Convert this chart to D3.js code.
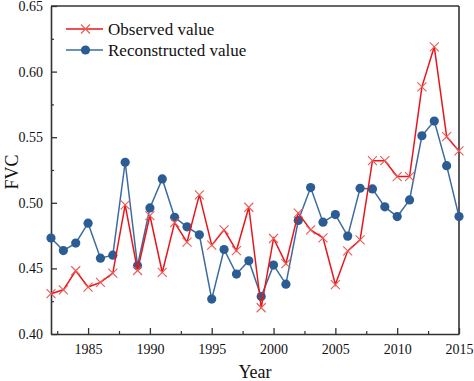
<!DOCTYPE html>
<html><head><meta charset="utf-8">
<script src="https://cdn.jsdelivr.net/npm/d3@7"></script>
<style>body{margin:0;background:#fff}svg{display:block}text{font-family:"Liberation Serif","Times New Roman",serif;fill:#111}</style>
</head><body><div id="chart"></div>
<script>
const years = d3.range(1982, 2016);
const observed = [0.4307,0.4337,0.4482,0.4358,0.4393,0.4464,0.4984,0.4484,0.4903,0.4469,
  0.4849,0.4700,0.5060,0.4677,0.4794,0.4636,0.4966,0.4200,0.4728,0.4537,
  0.4921,0.4794,0.4733,0.4377,0.4634,0.4718,0.5321,0.5321,0.5200,0.5200,
  0.5884,0.6189,0.5504,0.5395];
const reconstructed = [0.4731,0.4636,0.4693,0.4845,0.4578,0.4601,0.5309,0.4520,0.4961,0.5182,
  0.4890,0.4817,0.4756,0.4266,0.4644,0.4457,0.4558,0.4286,0.4525,0.4380,
  0.4865,0.5116,0.4852,0.4910,0.4746,0.5111,0.5106,0.4969,0.4895,0.5022,
  0.5511,0.5623,0.5283,0.4895];
const xTickValues = [1985,1990,1995,2000,2005,2010,2015];
const yTickValues = [0.40,0.45,0.50,0.55,0.60,0.65];
const seriesNames = ["Observed value","Reconstructed value"];

const W = 474, H = 381;
const m = {left:51, right:15, top:6, bottom:47};
const svg = d3.select("#chart").append("svg").attr("width",W).attr("height",H);
const x = d3.scaleLinear().domain([1982,2015]).range([m.left, W-m.right]);
const y = d3.scaleLinear().domain([0.40,0.65]).range([H-m.bottom, m.top]);

const axisColor = "#333";
const xMinor = d3.range(1982.5, 2015, 2.5).filter(v => !xTickValues.includes(v));
const yMinor = d3.range(0.425, 0.65, 0.05);

const gx = svg.append("g").attr("transform",`translate(0,${H-m.bottom})`)
  .call(d3.axisBottom(x).tickValues(xTickValues).tickFormat(d3.format("d")).tickSizeInner(-6).tickSizeOuter(0).tickPadding(10));
const gy = svg.append("g").attr("transform",`translate(${m.left},0)`)
  .call(d3.axisLeft(y).tickValues(yTickValues).tickFormat(d3.format(".2f")).tickSizeInner(-6).tickSizeOuter(0).tickPadding(8));
[gx,gy].forEach(g=>{
  g.selectAll("path").attr("stroke",axisColor).attr("stroke-width",1.6);
  g.selectAll("line").attr("stroke",axisColor).attr("stroke-width",1.3);
  g.selectAll("text").style("font-size","14px").attr("fill","#111");
});
svg.append("g").attr("transform",`translate(0,${H-m.bottom})`)
  .call(d3.axisBottom(x).tickValues(xMinor).tickFormat("").tickSizeInner(-3).tickSizeOuter(0))
  .call(g=>{g.select("path").remove(); g.selectAll("line").attr("stroke",axisColor).attr("stroke-width",1.2);});
svg.append("g").attr("transform",`translate(${m.left},0)`)
  .call(d3.axisLeft(y).tickValues(yMinor).tickFormat("").tickSizeInner(-3).tickSizeOuter(0))
  .call(g=>{g.select("path").remove(); g.selectAll("line").attr("stroke",axisColor).attr("stroke-width",1.2);});
svg.append("line").attr("x1",m.left).attr("x2",W-m.right).attr("y1",m.top).attr("y2",m.top).attr("stroke",axisColor).attr("stroke-width",1.6);
svg.append("line").attr("x1",W-m.right).attr("x2",W-m.right).attr("y1",m.top).attr("y2",H-m.bottom).attr("stroke",axisColor).attr("stroke-width",1.6);

const redLine = "#e8161c", redMark = "#ec5a55", blueLine = "#3d6b9f", blueMark = "#2b5d94";
const line = d3.line().x((d,i)=>x(years[i])).y(d=>y(d));

svg.append("path").datum(reconstructed).attr("d",line).attr("fill","none").attr("stroke",blueLine).attr("stroke-width",1.5);
svg.append("g").selectAll("circle").data(reconstructed).join("circle")
  .attr("cx",(d,i)=>x(years[i])).attr("cy",d=>y(d)).attr("r",4.6).attr("fill",blueMark);

const cross = (g, cx, cy, s) => g.append("path")
  .attr("d",`M${cx-s},${cy-s}L${cx+s},${cy+s}M${cx-s},${cy+s}L${cx+s},${cy-s}`)
  .attr("stroke",redMark).attr("stroke-width",1.1).attr("fill","none");
svg.append("path").datum(observed).attr("d",line).attr("fill","none").attr("stroke",redLine).attr("stroke-width",1.5);
const gc = svg.append("g");
observed.forEach((d,i)=>cross(gc, x(years[i]), y(d), 4.5));

const lg = svg.append("g");
lg.append("line").attr("x1",66).attr("x2",103).attr("y1",29).attr("y2",29).attr("stroke",redLine).attr("stroke-width",1.5);
cross(lg, 85.5, 29, 4.5);
lg.append("text").attr("x",108).attr("y",35).style("font-size","17px").text(seriesNames[0]);
lg.append("line").attr("x1",66).attr("x2",103).attr("y1",50).attr("y2",50).attr("stroke",blueLine).attr("stroke-width",1.5);
lg.append("circle").attr("cx",85.5).attr("cy",50).attr("r",4.6).attr("fill",blueMark);
lg.append("text").attr("x",108).attr("y",56).style("font-size","17px").text(seriesNames[1]);

svg.append("text").attr("x",(m.left+W-m.right)/2).attr("y",378).attr("text-anchor","middle").style("font-size","18px").text("Year");
svg.append("text").attr("transform",`translate(18,${(m.top+H-m.bottom)/2+2}) rotate(-90)`).attr("text-anchor","middle").style("font-size","18px").text("FVC");
</script></body></html>
